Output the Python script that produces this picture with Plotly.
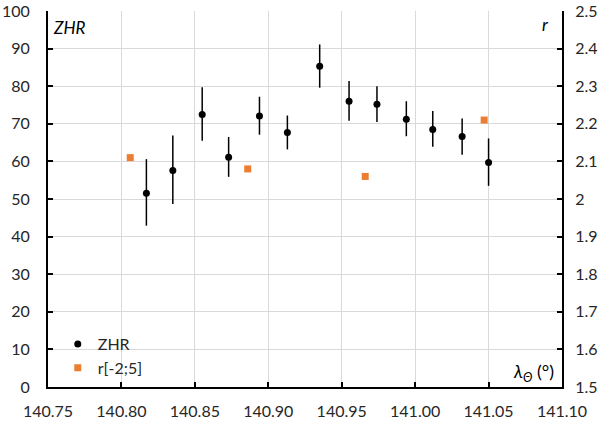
import plotly.graph_objects as go

# ZHR data
zhr_x = [140.817, 140.835, 140.855, 140.873, 140.894, 140.913, 140.935,
         140.955, 140.974, 140.994, 141.012, 141.032, 141.050]
zhr_y = [51.5, 57.6, 72.5, 61.1, 72.1, 67.7, 85.3, 76.0, 75.2, 71.2, 68.5, 66.6, 59.7]
zhr_err_plus = [9.1, 9.3, 7.2, 5.4, 5.1, 4.5, 5.8, 5.4, 4.8, 4.8, 4.9, 4.8, 6.4]
zhr_err_minus = [8.6, 8.9, 7.0, 5.2, 5.0, 4.5, 5.7, 5.2, 4.7, 4.5, 4.6, 4.8, 6.2]

# population index r data
r_x = [140.806, 140.886, 140.966, 141.047]
r_y = [2.11, 2.08, 2.06, 2.21]

FONT = "Lato, 'Open Sans', sans-serif"
FS = 16

fig = go.Figure()
fig.add_trace(go.Scatter(
    x=zhr_x, y=zhr_y, mode="markers", name="ZHR",
    marker=dict(symbol="circle", size=7, color="black"),
    error_y=dict(type="data", array=zhr_err_plus, arrayminus=zhr_err_minus,
                 color="black", thickness=1.5, width=0),
))
fig.add_trace(go.Scatter(
    x=r_x, y=r_y, mode="markers", name="r[-2;5]", yaxis="y2",
    marker=dict(symbol="square", size=7, color="#ED7D31"),
))

axis_common = dict(
    showline=True, linecolor="black", linewidth=2,
    ticks="inside", ticklen=5, tickwidth=2, tickcolor="black",
    tickfont=dict(family=FONT, size=FS, color="#262626"),
    zeroline=False, ticklabeloverflow="allow", automargin=False,
)

fig.update_layout(
    width=605, height=424,
    margin=dict(l=48, r=43, t=11, b=37),
    paper_bgcolor="white", plot_bgcolor="white",
    font=dict(family=FONT, size=FS, color="#262626"),
    xaxis=dict(range=[140.75, 141.10], dtick=0.05, tick0=140.75, tickformat=".2f",
               showgrid=True, gridcolor="#d9d9d9", gridwidth=1,
               ticklabelstandoff=9, **axis_common),
    yaxis=dict(range=[0, 100], dtick=10, tick0=0,
               showgrid=True, gridcolor="#d9d9d9", gridwidth=1,
               ticklabelstandoff=13, **axis_common),
    yaxis2=dict(range=[1.5, 2.5], dtick=0.1, tick0=1.5, overlaying="y", side="right",
                showgrid=False, ticklabelstandoff=8, **axis_common),
    showlegend=True,
    legend=dict(x=0.019, y=0.005, xanchor="left", yanchor="bottom",
                bgcolor="rgba(0,0,0,0)", font=dict(family=FONT, size=FS, color="#262626"),
                itemsizing="trace", tracegroupgap=0),
    annotations=[
        dict(text="<i>ZHR</i>", xref="paper", yref="paper", x=0.042, y=0.955,
             xanchor="center", yanchor="middle", showarrow=False,
             font=dict(family=FONT, size=FS + 1, color="black")),
        dict(text="<i>r</i>", xref="paper", yref="paper", x=0.9675, y=0.963,
             xanchor="center", yanchor="middle", showarrow=False,
             font=dict(family=FONT, size=FS + 1, color="black")),
        dict(text="<i>λ</i><sub><i>Θ</i></sub> (°)", xref="paper", yref="paper",
             x=0.989, y=0.039, xanchor="right", yanchor="middle", showarrow=False,
             font=dict(family=FONT, size=FS + 2, color="black")),
    ],
)

fig.write_html(
    "out.html",
    config={"displayModeBar": False},
    post_script="document.body.style.margin='0';document.body.style.padding='0';",
)
